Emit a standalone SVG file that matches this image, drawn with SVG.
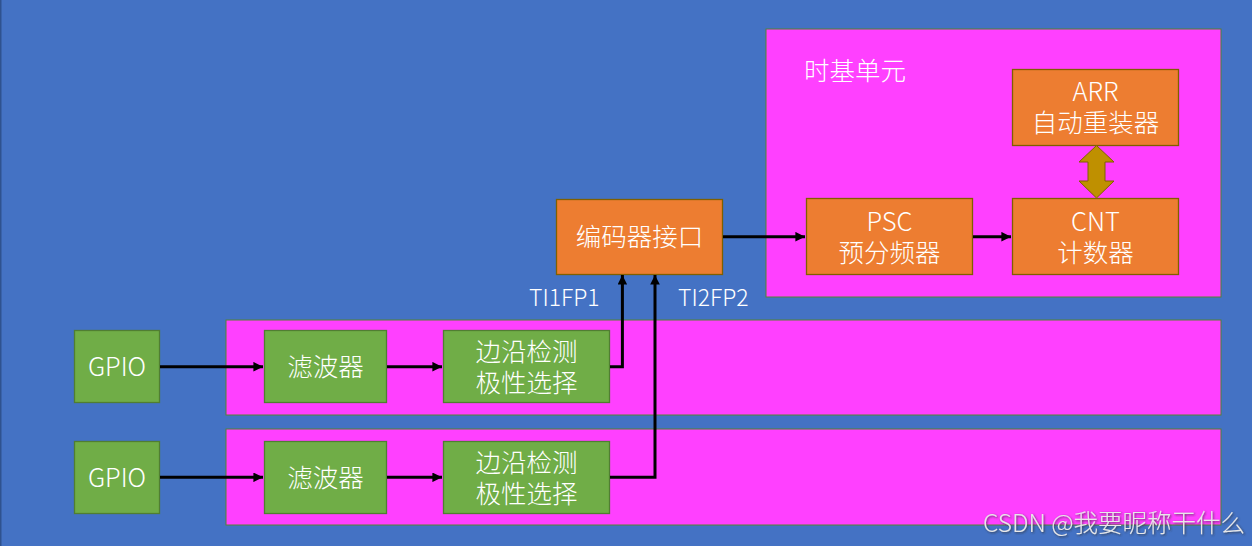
<svg xmlns="http://www.w3.org/2000/svg" width="1252" height="546" viewBox="0 0 1252 546">
<style>
.bg{fill:#4472C4}
.panel{fill:#FF40FF;stroke:#548235;stroke-width:1}
.ob{fill:#ED7D31;stroke:#7F6000;stroke-width:1.3}
.gb{fill:#70AD47;stroke:#507E32;stroke-width:1.3}
.t{font-family:"Noto Sans CJK SC","Noto Sans",sans-serif;font-size:25.5px;font-weight:300;fill:#FFFFFF;text-anchor:middle}
.lbl{font-family:"Noto Sans CJK SC","Noto Sans",sans-serif;font-size:23px;font-weight:300;fill:#FFFFFF}
.c{fill:none;stroke:#000000;stroke-width:3}
.wm{font-family:"Noto Sans CJK SC","Noto Sans",sans-serif;font-size:24.5px;font-weight:300;fill:#E8E8E8;filter:url(#sh)}
</style>
<defs>
<marker id="ah" viewBox="0 0 10 10" refX="10" refY="5" markerWidth="3.2" markerHeight="3.2" orient="auto" markerUnits="strokeWidth">
<path d="M0,0 L10,5 L0,10 z" fill="#000000"/>
</marker>
<filter id="sh" x="-5%" y="-20%" width="110%" height="150%">
<feDropShadow dx="1" dy="1" stdDeviation="0.8" flood-color="#333333" flood-opacity="0.8"/>
</filter>
</defs>
<rect class="bg" x="0" y="0" width="1252" height="546"/>
<rect x="0" y="0" width="1.5" height="546" fill="#2F528F"/>

<g id="timebase">
<rect class="panel" x="766" y="29" width="455" height="268"/>
<text class="lbl" x="804" y="80" style="font-size:25.5px">时基单元</text>
</g>
<g id="chan1">
<rect class="panel" x="226" y="320" width="995" height="95"/>
</g>
<g id="chan2">
<rect class="panel" x="226" y="429" width="995" height="96"/>
</g>

<g id="arr">
<rect class="ob" x="1012.5" y="69.5" width="166" height="76"/>
<text class="t" x="1095.5" y="101"><tspan x="1095.5" y="101">ARR</tspan><tspan x="1095.5" y="132">自动重装器</tspan></text>
</g>
<g id="cnt">
<rect class="ob" x="1012.5" y="198.5" width="166" height="76"/>
<text class="t" x="1095.5" y="231"><tspan x="1095.5" y="231">CNT</tspan><tspan x="1095.5" y="262">计数器</tspan></text>
</g>
<g id="psc">
<rect class="ob" x="806.5" y="198.5" width="166" height="76"/>
<text class="t" x="889.5" y="231"><tspan x="889.5" y="231">PSC</tspan><tspan x="889.5" y="262">预分频器</tspan></text>
</g>
<g id="encoder">
<rect class="ob" x="556.5" y="199.5" width="166" height="75"/>
<text class="t" x="639.5" y="246">编码器接口</text>
</g>

<g id="gpio1">
<rect class="gb" x="74.5" y="330.5" width="85" height="72"/>
<text class="t" x="117" y="376">GPIO</text>
</g>
<g id="filter1">
<rect class="gb" x="264.5" y="330.5" width="122" height="72"/>
<text class="t" x="325.5" y="376">滤波器</text>
</g>
<g id="edge1">
<rect class="gb" x="443.5" y="330.5" width="166" height="72"/>
<text class="t" x="526.5" y="361"><tspan x="526.5" y="361">边沿检测</tspan><tspan x="526.5" y="392">极性选择</tspan></text>
</g>
<g id="gpio2">
<rect class="gb" x="74.5" y="441.5" width="85" height="72"/>
<text class="t" x="117" y="486.5">GPIO</text>
</g>
<g id="filter2">
<rect class="gb" x="264.5" y="441.5" width="122" height="72"/>
<text class="t" x="325.5" y="486.5">滤波器</text>
</g>
<g id="edge2">
<rect class="gb" x="443.5" y="441.5" width="166" height="72"/>
<text class="t" x="526.5" y="472"><tspan x="526.5" y="472">边沿检测</tspan><tspan x="526.5" y="503">极性选择</tspan></text>
</g>

<g id="connectors">
<path class="c" d="M160,366.7 L263,366.7" marker-end="url(#ah)"/>
<path class="c" d="M387,366.7 L442,366.7" marker-end="url(#ah)"/>
<path class="c" d="M160,477.3 L263,477.3" marker-end="url(#ah)"/>
<path class="c" d="M387,477.3 L442,477.3" marker-end="url(#ah)"/>
<path class="c" d="M610,366.7 L622.4,366.7 L622.4,275" marker-end="url(#ah)"/>
<path class="c" d="M610,477.3 L655,477.3 L655,275" marker-end="url(#ah)"/>
<path class="c" d="M723,236.7 L805,236.7" marker-end="url(#ah)"/>
<path class="c" d="M973,236.7 L1011,236.7" marker-end="url(#ah)"/>
<path d="M1096.5,145.5 L1114,162 L1105,162 L1105,181 L1114,181 L1096.5,198 L1079,181 L1088,181 L1088,162 L1079,162 Z" fill="#BF9000" stroke="#7F6000" stroke-width="1"/>
</g>

<g id="labels">
<text class="lbl" x="529" y="306">TI1FP1</text>
<text class="lbl" x="678" y="306">TI2FP2</text>
</g>
<text class="wm" x="983" y="532">CSDN @我要昵称干什么</text>
</svg>
